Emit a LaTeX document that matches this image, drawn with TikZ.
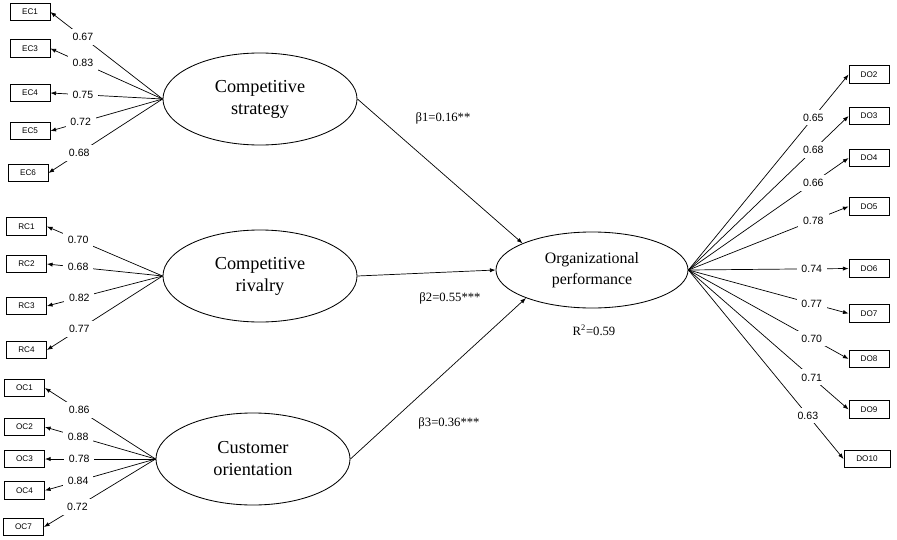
\documentclass[tikz,border=0pt]{standalone}
\usepackage{fontspec}
\setmainfont{Liberation Serif}
\newfontfamily\itemfont{Liberation Sans}
\usetikzlibrary{arrows.meta,shapes.geometric}

\begin{document}
\begin{tikzpicture}[x=0.025cm, y=-0.025cm,
  latent/.style={ellipse, draw, line width=0.6pt, inner sep=0pt,
                 minimum width=4.85cm, minimum height=2.3cm,
                 align=center, font=\fontsize{13}{15.6}\selectfont},
  obs/.style={rectangle, draw, line width=0.6pt, inner sep=1pt,
              minimum width=1cm, minimum height=0.44cm,
              font=\itemfont\fontsize{5.8}{6}\selectfont},
  load/.style={fill=white, inner xsep=3.5pt, inner ysep=3pt, font=\itemfont\fontsize{7.5}{8}\selectfont},
  coef/.style={font=\fontsize{9}{10}\selectfont},
  arr/.style={-{Latex[length=4pt,width=3pt]}, line width=0.5pt}
]
\useasboundingbox (0,0) rectangle (897,540);

% Latent constructs
\node[latent] (strat) at (260,99)  {Competitive\\strategy};
\node[latent] (rival) at (260,276) {Competitive\\rivalry};
\node[latent] (cust)  at (253,459) {Customer\\orientation};
\node[latent, minimum width=4.8cm, minimum height=1.9cm,
      font=\fontsize{11.3}{15}\selectfont] (perf) at (592,270) {Organizational\\performance};

% Indicators, left
\node[obs] (ec1) at (30,12)    {EC1};
\node[obs] (ec3) at (30,48.5)  {EC3};
\node[obs] (ec4) at (30,93)    {EC4};
\node[obs] (ec5) at (30,131)   {EC5};
\node[obs] (ec6) at (28,173)   {EC6};

\node[obs] (rc1) at (26.5,226.5) {RC1};
\node[obs] (rc2) at (26.5,264)   {RC2};
\node[obs] (rc3) at (26.5,306)   {RC3};
\node[obs] (rc4) at (26.5,350)   {RC4};

\node[obs] (oc1) at (24.5,388)   {OC1};
\node[obs] (oc2) at (24.5,427)   {OC2};
\node[obs] (oc3) at (24.5,459)   {OC3};
\node[obs] (oc4) at (24.5,490.5) {OC4};
\node[obs] (oc7) at (23.5,527)   {OC7};

% Indicators, right
\node[obs] (do2)  at (869,74.5)  {DO2};
\node[obs] (do3)  at (869,116)   {DO3};
\node[obs] (do4)  at (869,158)   {DO4};
\node[obs] (do5)  at (869,206.5) {DO5};
\node[obs] (do6)  at (869,268.5) {DO6};
\node[obs] (do7)  at (869,313.5) {DO7};
\node[obs] (do8)  at (869,359)   {DO8};
\node[obs] (do9)  at (869,409.5) {DO9};
\node[obs, minimum width=1.15cm] (do10) at (867,459) {DO10};

% Loadings
\draw[arr] (strat.west) -- node[load, pos=0.71] {0.67} (ec1.east);
\draw[arr] (strat.west) -- node[load, pos=0.71] {0.83} (ec3.east);
\draw[arr] (strat.west) -- node[load, pos=0.71] {0.75} (ec4.east);
\draw[arr] (strat.west) -- node[load, pos=0.73] {0.72} (ec5.east);
\draw[arr] (strat.west) -- node[load, pos=0.73] {0.68} (ec6.east);

\draw[arr] (rival.west) -- node[load, pos=0.73] {0.70} (rc1.east);
\draw[arr] (rival.west) -- node[load, pos=0.73] {0.68} (rc2.east);
\draw[arr] (rival.west) -- node[load, pos=0.72] {0.82} (rc3.east);
\draw[arr] (rival.west) -- node[load, pos=0.72] {0.77} (rc4.east);

\draw[arr] (cust.west) -- node[load, pos=0.69] {0.86} (oc1.east);
\draw[arr] (cust.west) -- node[load, pos=0.70] {0.88} (oc2.east);
\draw[arr] (cust.west) -- node[load, pos=0.69] {0.78} (oc3.east);
\draw[arr] (cust.west) -- node[load, pos=0.70] {0.84} (oc4.east);
\draw[arr] (cust.west) -- node[load, pos=0.70] {0.72} (oc7.east);

\draw[arr] (perf.east) -- node[load, pos=0.78] {0.65} (do2.west);
\draw[arr] (perf.east) -- node[load, pos=0.78] {0.68} (do3.west);
\draw[arr] (perf.east) -- node[load, pos=0.78] {0.66} (do4.west);
\draw[arr] (perf.east) -- node[load, pos=0.78] {0.78} (do5.west);
\draw[arr] (perf.east) -- node[load, pos=0.77] {0.74} (do6.west);
\draw[arr] (perf.east) -- node[load, pos=0.77] {0.77} (do7.west);
\draw[arr] (perf.east) -- node[load, pos=0.77] {0.70} (do8.west);
\draw[arr] (perf.east) -- node[load, pos=0.77] {0.71} (do9.west);
\draw[arr] (perf.east) -- node[load, pos=0.77] {0.63} (do10.west);

% Structural paths
\draw[arr] (strat.east) -- (perf.159);
\draw[arr] (rival.east) -- (perf.west);
\draw[arr] (cust.east)  -- (perf.203);

\node[coef] (b1) at (443,118) {β1=0.16**};
\node[coef] (b2) at (450,298) {β2=0.55***};
\node[coef] (b3) at (449,423) {β3=0.36***};
\node[coef] (r2) at (594,330) {R\textsuperscript{2}=0.59};
\end{tikzpicture}
\end{document}
